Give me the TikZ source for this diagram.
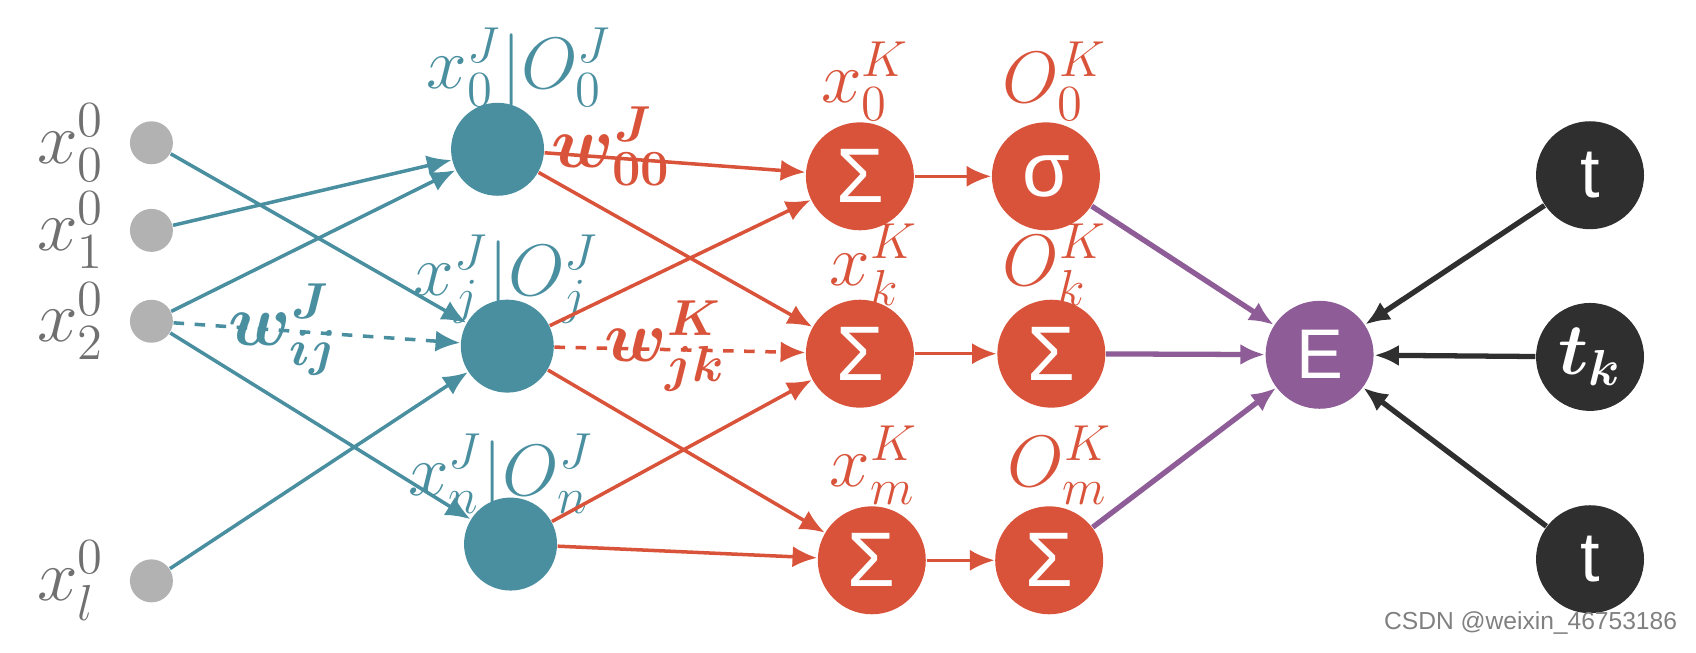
\documentclass[tikz,border=0pt]{standalone}
\usepackage{amsmath,bm}
\usepackage{fontspec}
\newfontfamily\sansf{Liberation Sans}
\usetikzlibrary{arrows.meta}
\definecolor{teal1}{HTML}{4A8FA0}
\definecolor{red1}{HTML}{D9533A}
\definecolor{purp}{HTML}{8E5D97}
\definecolor{dark}{HTML}{2F2F2F}
\definecolor{gl}{HTML}{707070}
\begin{document}
\begin{tikzpicture}[x=0.010816cm,y=-0.010816cm,
 inp/.style={circle,fill=gray!60,inner sep=0pt,minimum size=0.43cm},
 tn/.style={circle,fill=teal1,minimum size=0.93cm,inner sep=0pt},
 rn/.style={circle,fill=red1,minimum size=1.08cm,inner sep=0pt,text=white,font=\sansf\fontsize{22}{24}\selectfont},
 pn/.style={circle,fill=purp,minimum size=1.08cm,inner sep=0pt,text=white,font=\sansf\fontsize{20}{24}\selectfont},
 dn/.style={circle,fill=dark,minimum size=1.08cm,inner sep=0pt,text=white,font=\sansf\fontsize{20}{24}\selectfont},
 lab/.style={font=\fontsize{21}{25}\selectfont},
 ta/.style={teal1,line width=1pt,-{Latex[length=7pt,width=6pt]}},
 ra/.style={red1,line width=1pt,-{Latex[length=7pt,width=6pt]}},
 pa/.style={purp,line width=1.5pt,-{Latex[length=7pt,width=6pt]}},
 da/.style={dark,line width=1.5pt,-{Latex[length=7pt,width=6pt]}}]
\useasboundingbox (0,0) rectangle (1568,603);
% inputs
\node[inp] (i0) at (140,132) {};
\node[inp] (i1) at (140,213) {};
\node[inp] (i2) at (140,297) {};
\node[inp] (il) at (140,537) {};
\node[lab,text=gl,anchor=east] at (108,132) {$x_0^0$};
\node[lab,text=gl,anchor=east] at (108,213) {$x_1^0$};
\node[lab,text=gl,anchor=east] at (108,297) {$x_2^0$};
\node[lab,text=gl,anchor=east] at (108,537) {$x_l^0$};
% hidden
\node[tn] (j0) at (460,138) {};
\node[tn] (jj) at (469,320) {};
\node[tn] (jn) at (472,503) {};
\node[lab,text=teal1] at (480,62) {$x_0^J|O_0^J$};
\node[lab,text=teal1] at (468,258) {$x_j^J|O_j^J$};
\node[lab,text=teal1] at (463,438) {$x_n^J|O_n^J$};
% output
\node[rn] (k0) at (795,163) {Σ};
\node[rn] (kk) at (795,327) {Σ};
\node[rn] (km) at (806,518) {Σ};
\node[rn] (o0) at (967,163) {σ};
\node[rn] (ok) at (972,327) {Σ};
\node[rn] (om) at (970,518) {Σ};
\node[lab,text=red1] at (800,75) {$x_0^K$};
\node[lab,text=red1] at (975,75) {$O_0^K$};
\node[lab,text=red1] at (808,245) {$x_k^K$};
\node[lab,text=red1] at (975,245) {$O_k^K$};
\node[lab,text=red1] at (808,430) {$x_m^K$};
\node[lab,text=red1] at (980,430) {$O_m^K$};
\node[pn] (e) at (1220,328) {E};
\node[dn] (t1) at (1470,162) {t};
\node[dn] (tk) at (1470,330) {$\bm{t_k}$};
\node[dn] (t2) at (1470,517) {t};
% edges
\draw[ta] (i0) -- (jj);
\draw[ta] (i1) -- (j0);
\draw[ta] (i2) -- (j0);
\draw[ta,dashed] (i2) -- (jj);
\draw[ta] (i2) -- (jn);
\draw[ta] (il) -- (jj);
\draw[ra] (j0) -- (k0);
\draw[ra] (j0) -- (kk);
\draw[ra] (jj) -- (k0);
\draw[ra,dashed] (jj) -- (kk);
\draw[ra] (jj) -- (km);
\draw[ra] (jn) -- (kk);
\draw[ra] (jn) -- (km);
\draw[ra] (k0) -- (o0);
\draw[ra] (kk) -- (ok);
\draw[ra] (km) -- (om);
\draw[pa] (o0) -- (e);
\draw[pa] (ok) -- (e);
\draw[pa] (om) -- (e);
\draw[da] (t1) -- (e);
\draw[da] (tk) -- (e);
\draw[da] (t2) -- (e);
\node[lab,text=red1] at (565,135) {$\bm{w_{00}^J}$};
\node[lab,text=teal1] at (262,305) {$\bm{w_{ij}^J}$};
\node[lab,text=red1] at (615,320) {$\bm{w_{jk}^K}$};
\node[font=\sansf\fontsize{7}{8}\selectfont,text=gray,anchor=south east] at (1562,598) {CSDN @weixin\_46753186};
\end{tikzpicture}
\end{document}
